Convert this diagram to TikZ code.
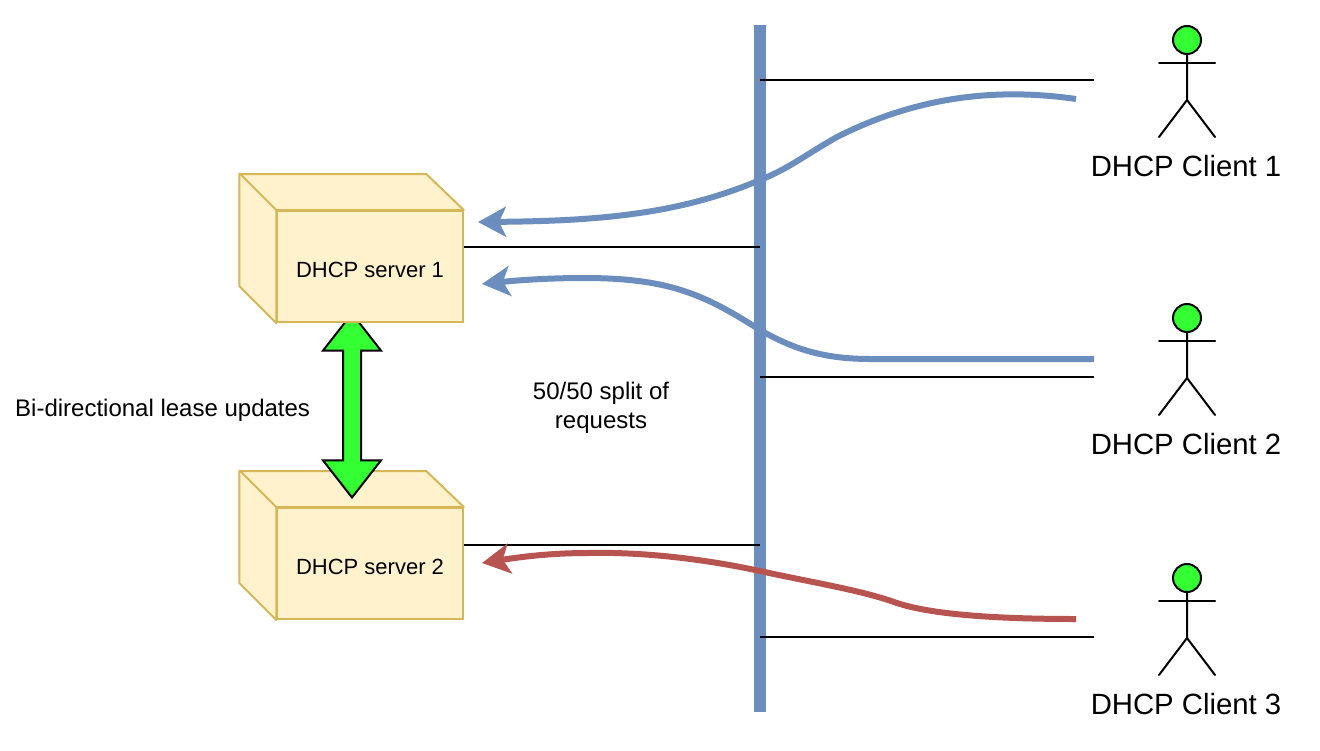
\documentclass[tikz,border=0pt]{standalone}
\usepackage{fontspec}
\setmainfont{Liberation Sans}
\usetikzlibrary{arrows.meta,shapes.arrows}
\definecolor{busblue}{HTML}{6C8EBF}
\definecolor{reqred}{HTML}{B85450}
\definecolor{boxfill}{HTML}{FFF2CC}
\definecolor{boxline}{HTML}{D6B656}
\definecolor{actgreen}{HTML}{33FF33}
\tikzset{
    srvbox/.style={draw=boxline,fill=boxfill,line width=2pt,minimum width=185.5pt,minimum height=111pt,inner sep=0pt,text height=22pt,text depth=0pt,font=\fontsize{22}{26}\selectfont},
    lan/.style={line width=2pt,black},
    req/.style={line width=6pt,-{Stealth[length=28pt,width=30pt,inset=7pt]}},
    txt/.style={font=\fontsize{24}{29}\selectfont,align=center,inner sep=0pt},
    actor/.style={line width=2pt,black,line cap=round}
}
\newcommand{\srvcube}[3]{
    \node[srvbox] (#1) at (370,#2) {#3};
    \draw[draw=boxline,fill=boxfill,line width=2pt,line join=round] (#1.south west) -- ++(-37,-37) -- ++(0,-112) -- ++(187,0) -- (#1.north east) -- (#1.north west) -- cycle;
    \draw[boxline,line width=2pt] (#1.north west) -- ++(-37,-37);
}
\begin{document}
\begin{tikzpicture}[x=1pt,y=-1pt]
        \useasboundingbox (0,0) rectangle (1320,750);
        % network
        \node[fill=busblue,minimum width=12pt,minimum height=687pt,inner sep=0pt] (bus) at (760,368.5) {};
        % servers
        \srvcube{srv2}{563.5}{DHCP server 2}
        \node[shape=double arrow,draw=black,fill=actgreen,line width=2pt,rotate=90,minimum height=184pt,inner xsep=0pt,inner ysep=8pt,double arrow head extend=20pt,double arrow tip angle=76,double arrow head indent=0pt] (sync) at (352,405.5) {};
        \srvcube{srv1}{266.5}{DHCP server 1}
        \coordinate (port1) at (464,247);
        \coordinate (port2) at (464,545);
        \draw[lan] (port1) -- (port1 -| bus);
        \draw[lan] (port2) -- (port2 -| bus);
        \node[txt,anchor=west] (synclabel) at (15,410) {Bi-directional lease updates};
        \node[txt] (splitlabel) at (601,408) {50/50 split of\\requests};
        % clients
        \foreach \n/\h/\l in {1/40/80,2/318/377,3/578/637}{
            \node[circle,draw=black,fill=actgreen,line width=2pt,minimum size=28pt,inner sep=0pt] (head\n) at (1187,\h) {};
            \draw[actor] (head\n.south) -- ++(0,45) coordinate (hip\n) -- ++(-28,37);
            \draw[actor] (hip\n) -- ++(28,37);
            \draw[actor] ([yshift=-8pt]head\n.south) ++(-28,0) -- ++(56,0);
            \node[txt,font=\fontsize{29.3}{34}\selectfont] (client\n) at (1186,\h+126) {DHCP Client \n};
            \coordinate (tap\n) at (1094,\l);
            \draw[lan] (tap\n -| bus) -- (tap\n);
        }
        % requests
        \coordinate (from1) at (1076,99);
        \coordinate (from2) at (1094,359);
        \coordinate (from3) at (1076,619);
        \coordinate (to1) at (478,222);
        \coordinate (to2) at (482,284);
        \coordinate (to3) at (482,563);
        \draw[req,busblue] (from1) .. controls (1000,88) and (920,95) .. (837,137) .. controls (805,155) and (790,168) .. (760,180) .. controls (680,214) and (600,221) .. (to1);
        \draw[req,busblue] (from2) -- (870,359) .. controls (820,359) and (790,347) .. (760,330) .. controls (705,295) and (670,278) .. (584,278) .. controls (550,278) and (520,280) .. (to2);
        \draw[req,reqred] (from3) .. controls (1000,619) and (930,615) .. (894,602) .. controls (860,590) and (810,582) .. (760,571) .. controls (690,556) and (630,552) .. (588,553) .. controls (550,553) and (520,557) .. (to3);
\end{tikzpicture}
\end{document}
